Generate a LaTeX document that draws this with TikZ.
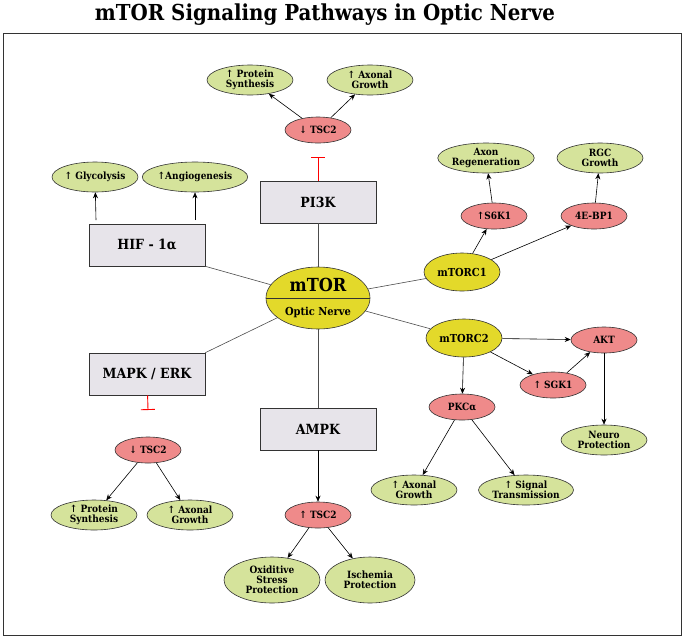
\documentclass[tikz,border=0pt]{standalone}
\usepackage{fontspec}
\setmainfont{DejaVu Serif Condensed}
\usetikzlibrary{arrows.meta,shapes.geometric}
\definecolor{gfill}{HTML}{D5E39B}
\definecolor{rfill}{HTML}{EF8A8A}
\definecolor{yfill}{HTML}{E3D92A}
\definecolor{bfill}{HTML}{E7E4EA}
\begin{document}
\begin{tikzpicture}[x=1pt,y=-1pt,
 base/.style={draw=black!80,line width=0.6pt,font=\bfseries\fontsize{10}{10}\selectfont,align=center,inner sep=0pt},
 g/.style={base,ellipse,fill=gfill,minimum width=86pt,minimum height=30pt},
 r/.style={base,ellipse,fill=rfill,minimum width=66pt,minimum height=26pt},
 yel/.style={base,ellipse,fill=yfill,minimum width=76pt,minimum height=38pt,font=\bfseries\fontsize{11}{11}\selectfont},
 bx/.style={base,rectangle,fill=bfill,minimum width=116pt,minimum height=42pt,font=\bfseries\fontsize{14}{14}\selectfont},
 ar/.style={-{Stealth[length=6pt,width=5pt]},line width=0.6pt},
 ln/.style={line width=0.6pt,black!70},
 inh/.style={-{Bar[width=14pt]},red,line width=0.9pt}]
\useasboundingbox (0,0) rectangle (685,638);
\node[font=\bfseries\fontsize{22}{22}\selectfont] (title) at (325,15) {mTOR Signaling Pathways in Optic Nerve};
\draw[black!80,line width=0.8pt] (3,33) rectangle (681,635);
% boxes
\node[bx] (pi3k) at (318,202) {PI3K};
\node[bx] (hif) at (147,245) {HIF - 1α};
\node[bx] (mapk) at (147,374) {MAPK / ERK};
\node[bx] (ampk) at (318,429) {AMPK};
% mTOR
\node[base,ellipse,fill=yfill,minimum width=104pt,minimum height=62pt] (mtor) at (318,298) {};
\draw[line width=0.6pt,black!80] (mtor.west) -- (mtor.east);
\node[font=\bfseries\fontsize{18}{18}\selectfont] (mt) at (318,285) {mTOR};
\node[font=\bfseries\fontsize{11}{11}\selectfont] (on) at (318,312) {Optic Nerve};
\draw[ln] (mtor) -- (pi3k);
\draw[ln] (mtor) -- (ampk);
\draw[ln] (mtor) -- (hif.south east);
\draw[ln] (mtor) -- (mapk.north east);
% top
\node[r] (tsc1) at (318,130) {↓ TSC2};
\node[g] (ps1) at (250,80) {↑ Protein\\Synthesis};
\node[g] (ag1) at (370,80) {↑ Axonal\\Growth};
\coordinate (b1) at (318,157);
\draw[inh] (pi3k) -- (b1);
\draw[ar] (tsc1) -- (ps1);
\draw[ar] (tsc1) -- (ag1);
% HIF
\node[g] (gly) at (95,177) {↑ Glycolysis};
\node[g] (ang) at (195,177) {↑Angiogenesis};
\draw[ar] (96,220) -- (gly);
\draw[ar] (195,220) -- (ang);
% mTORC1
\node[yel] (c1) at (462,272) {mTORC1};
\node[r] (s6k) at (494,216) {↑S6K1};
\node[r] (ebp) at (594,216) {4E-BP1};
\node[g] (axr) at (486,158) {Axon\\Regeneration};
\node[g] (rgc) at (600,158) {RGC\\Growth};
\draw[ln] (mtor) -- (c1);
\draw[ar] (c1) -- (s6k);
\draw[ar] (c1) -- (ebp);
\draw[ar] (s6k) -- (axr);
\draw[ar] (ebp) -- (rgc);
% mTORC2
\node[yel] (c2) at (464,338) {mTORC2};
\node[r] (akt) at (604,340) {AKT};
\node[r] (sgk) at (553,385) {↑ SGK1};
\node[r] (pkc) at (462,407) {PKCα};
\node[g] (np) at (604,440) {Neuro\\Protection};
\node[g] (ag2) at (414,490) {↑ Axonal\\Growth};
\node[g] (st) at (526,490) {↑ Signal\\Transmission};
\draw[ln] (mtor) -- (c2);
\draw[ar] (c2) -- (akt);
\draw[ar] (c2) -- (sgk);
\draw[ar] (c2) -- (pkc);
\draw[ar] (sgk) -- (akt);
\draw[ar] (akt) -- (np);
\draw[ar] (pkc) -- (ag2);
\draw[ar] (pkc) -- (st);
% MAPK
\node[r] (tsc2) at (148,450) {↓ TSC2};
\node[g] (ps2) at (94,515) {↑ Protein\\Synthesis};
\node[g] (ag3) at (190,515) {↑ Axonal\\Growth};
\coordinate (b2) at (148,410);
\draw[inh] (mapk) -- (b2);
\draw[ar] (tsc2) -- (ps2);
\draw[ar] (tsc2) -- (ag3);
% AMPK
\node[r] (tsc3) at (318,515) {↑ TSC2};
\node[g,minimum width=96pt,minimum height=46pt] (osp) at (272,580) {Oxiditive\\Stress\\Protection};
\node[g,minimum width=90pt,minimum height=46pt] (isp) at (370,580) {Ischemia\\Protection};
\draw[ar] (ampk) -- (tsc3);
\draw[ar] (tsc3) -- (osp);
\draw[ar] (tsc3) -- (isp);
\end{tikzpicture}
\end{document}
